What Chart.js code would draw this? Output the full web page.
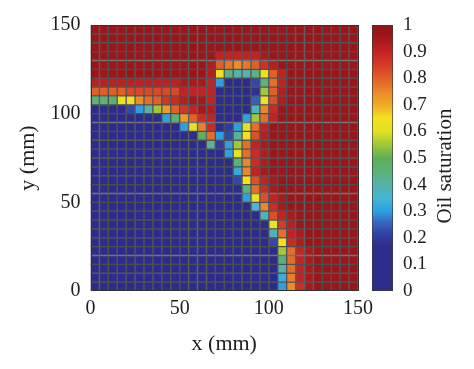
<!DOCTYPE html>
<html><head><meta charset="utf-8">
<script src="https://cdn.jsdelivr.net/npm/chart.js@4.4.1/dist/chart.umd.min.js"></script>
<style>
html,body{margin:0;padding:0;background:#fff;width:474px;height:369px;overflow:hidden;}
#wrap{position:relative;width:474px;height:369px;}
canvas{position:absolute;top:0;}
#main{left:0;}
#cbar{left:372px;}
</style></head><body>
<div id="wrap"><canvas id="main" width="474" height="369"></canvas><canvas id="cbar" width="102" height="369"></canvas></div>
<script>
// cell centres (mm)
const xCenters = [2.5,7.5,12.5,17.5,22.5,27.5,32.5,37.5,42.5,47.5,52.5,57.5,62.5,67.5,72.5,77.5,82.5,87.5,92.5,97.5,102.5,107.5,112.5,117.5,122.5,127.5,132.5,137.5,142.5,147.5];
const yCenters = [147.5,142.5,137.5,132.5,127.5,122.5,117.5,112.5,107.5,102.5,97.5,92.5,87.5,82.5,77.5,72.5,67.5,62.5,57.5,52.5,47.5,42.5,37.5,32.5,27.5,22.5,17.5,12.5,7.5,2.5];
const cellHalf = 2.5;
const xTicks = [0,50,100,150];
const yTicks = [0,50,100,150];
const cbarTicks = [0,0.1,0.2,0.3,0.4,0.5,0.6,0.7,0.8,0.9,1];

// oil saturation, one row per y (top row first), one value per x column
const satRows = [
[.97,.97,.97,.97,.97,.97,.97,.97,.97,.97, .97,.97,.97,.97,.97,.97,.97,.97,.97,.97, .97,.97,.97,.97,.97,.97,.97,.97,.97,.97],
[.97,.97,.97,.97,.97,.97,.97,.97,.97,.97, .97,.97,.97,.97,.97,.97,.97,.97,.97,.97, .97,.97,.97,.97,.97,.97,.97,.97,.97,.97],
[.97,.97,.97,.97,.97,.97,.97,.97,.97,.97, .97,.97,.97,.97,.97,.97,.97,.97,.97,.97, .97,.97,.97,.97,.97,.97,.97,.97,.97,.97],
[.97,.97,.97,.97,.97,.97,.97,.97,.97,.97, .97,.97,.97,.97,.90,.90,.90,.90,.90,.94, .97,.97,.97,.97,.97,.97,.97,.97,.97,.97],
[.97,.97,.97,.97,.97,.97,.97,.97,.97,.97, .97,.97,.97,.93,.80,.77,.74,.77,.80,.87, .92,.97,.97,.97,.97,.97,.97,.97,.97,.97],
[.97,.97,.97,.97,.97,.97,.97,.97,.97,.97, .97,.97,.97,.92,.64,.45,.40,.40,.45,.63, .80,.90,.97,.97,.97,.97,.97,.97,.97,.97],
[.91,.91,.91,.91,.91,.91,.91,.91,.91,.91, .94,.94,.94,.90,.30,.06,.06,.06,.22,.45, .78,.90,.97,.97,.97,.97,.97,.97,.97,.97],
[.80,.80,.80,.80,.83,.83,.83,.83,.83,.83, .90,.90,.90,.90,.08,.06,.06,.06,.18,.55, .80,.92,.97,.97,.97,.97,.97,.97,.97,.97],
[.45,.45,.47,.62,.64,.74,.78,.80,.86,.88, .92,.95,.95,.90,.06,.06,.06,.06,.25,.62, .82,.93,.97,.97,.97,.97,.97,.97,.97,.97],
[.06,.06,.06,.06,.22,.30,.40,.55,.72,.80, .86,.90,.95,.93,.06,.06,.06,.06,.38,.75, .88,.97,.97,.97,.97,.97,.97,.97,.97,.97],
[.06,.06,.06,.06,.06,.06,.06,.06,.30,.45, .72,.80,.88,.90,.06,.06,.06,.30,.55,.78, .90,.97,.97,.97,.97,.97,.97,.97,.97,.97],
[.06,.06,.06,.06,.06,.06,.06,.06,.06,.06, .30,.62,.76,.88,.06,.20,.30,.60,.78,.90, .97,.97,.97,.97,.97,.97,.97,.97,.97,.97],
[.06,.06,.06,.06,.06,.06,.06,.06,.06,.06, .06,.06,.48,.78,.30,.22,.42,.65,.82,.92, .97,.97,.97,.97,.97,.97,.97,.97,.97,.97],
[.06,.06,.06,.06,.06,.06,.06,.06,.06,.06, .06,.06,.06,.42,.20,.30,.55,.78,.90,.94, .97,.97,.97,.97,.97,.97,.97,.97,.97,.97],
[.06,.06,.06,.06,.06,.06,.06,.06,.06,.06, .06,.06,.06,.06,.06,.30,.62,.78,.88,.93, .97,.97,.97,.97,.97,.97,.97,.97,.97,.97],
[.06,.06,.06,.06,.06,.06,.06,.06,.06,.06, .06,.06,.06,.06,.06,.06,.45,.75,.88,.93, .97,.97,.97,.97,.97,.97,.97,.97,.97,.97],
[.06,.06,.06,.06,.06,.06,.06,.06,.06,.06, .06,.06,.06,.06,.06,.06,.32,.75,.90,.94, .97,.97,.97,.97,.97,.97,.97,.97,.97,.97],
[.06,.06,.06,.06,.06,.06,.06,.06,.06,.06, .06,.06,.06,.06,.06,.06,.22,.65,.82,.90, .94,.97,.97,.97,.97,.97,.97,.97,.97,.97],
[.06,.06,.06,.06,.06,.06,.06,.06,.06,.06, .06,.06,.06,.06,.06,.06,.06,.45,.78,.88, .94,.97,.97,.97,.97,.97,.97,.97,.97,.97],
[.06,.06,.06,.06,.06,.06,.06,.06,.06,.06, .06,.06,.06,.06,.06,.06,.06,.30,.62,.82, .90,.94,.97,.97,.97,.97,.97,.97,.97,.97],
[.06,.06,.06,.06,.06,.06,.06,.06,.06,.06, .06,.06,.06,.06,.06,.06,.06,.06,.35,.75, .88,.94,.97,.97,.97,.97,.97,.97,.97,.97],
[.06,.06,.06,.06,.06,.06,.06,.06,.06,.06, .06,.06,.06,.06,.06,.06,.06,.06,.06,.38, .82,.90,.94,.97,.97,.97,.97,.97,.97,.97],
[.06,.06,.06,.06,.06,.06,.06,.06,.06,.06, .06,.06,.06,.06,.06,.06,.06,.06,.06,.10, .62,.85,.92,.97,.97,.97,.97,.97,.97,.97],
[.06,.06,.06,.06,.06,.06,.06,.06,.06,.06, .06,.06,.06,.06,.06,.06,.06,.06,.06,.06, .38,.78,.90,.94,.97,.97,.97,.97,.97,.97],
[.06,.06,.06,.06,.06,.06,.06,.06,.06,.06, .06,.06,.06,.06,.06,.06,.06,.06,.06,.06, .22,.65,.88,.93,.97,.97,.97,.97,.97,.97],
[.06,.06,.06,.06,.06,.06,.06,.06,.06,.06, .06,.06,.06,.06,.06,.06,.06,.06,.06,.06, .06,.55,.78,.90,.94,.97,.97,.97,.97,.97],
[.06,.06,.06,.06,.06,.06,.06,.06,.06,.06, .06,.06,.06,.06,.06,.06,.06,.06,.06,.06, .06,.45,.78,.90,.94,.97,.97,.97,.97,.97],
[.06,.06,.06,.06,.06,.06,.06,.06,.06,.06, .06,.06,.06,.06,.06,.06,.06,.06,.06,.06, .06,.40,.78,.90,.94,.97,.97,.97,.97,.97],
[.06,.06,.06,.06,.06,.06,.06,.06,.06,.06, .06,.06,.06,.06,.06,.06,.06,.06,.06,.06, .06,.33,.76,.90,.94,.97,.97,.97,.97,.97],
[.06,.06,.06,.06,.06,.06,.06,.06,.06,.06, .06,.06,.06,.06,.06,.06,.06,.06,.06,.06, .06,.30,.74,.88,.94,.97,.97,.97,.97,.97]
];

// colormap (jet-like, as in the colour bar)
const cmapStops = [
 [0.00,[44,45,138]],[0.17,[45,46,140]],[0.21,[50,62,160]],[0.26,[55,105,195]],
 [0.30,[45,160,225]],[0.35,[70,180,210]],[0.40,[85,178,170]],[0.45,[90,178,120]],
 [0.50,[95,175,85]],[0.55,[160,200,55]],[0.60,[225,225,35]],[0.65,[245,225,30]],
 [0.70,[240,170,40]],[0.75,[235,135,40]],[0.80,[225,95,40]],[0.85,[212,58,38]],
 [0.90,[196,34,34]],[0.95,[162,24,27]],[1.00,[140,20,24]]
];
function satColor(v){
  for (let i=0;i<cmapStops.length-1;i++){
    const [a,ca]=cmapStops[i],[b,cb]=cmapStops[i+1];
    if (v<=b){
      const t=Math.max(0,Math.min(1,(v-a)/(b-a)));
      return 'rgb('+ca.map((c,k)=>Math.round(c+(cb[k]-c)*t)).join(',')+')';
    }
  }
  const c=cmapStops[cmapStops.length-1][1];
  return 'rgb('+c.join(',')+')';
}

const FONT = 'Liberation Serif';
const TXT = '#1e1e1e';

const cells = [];
satRows.forEach((row,r)=>row.forEach((v,c)=>{
  cells.push({x:xCenters[c], y:[yCenters[r]-cellHalf, yCenters[r]+cellHalf], v:v});
}));

const frame = {
  id:'frame',
  afterDatasetsDraw(chart){
    const {ctx, chartArea:a} = chart;
    ctx.save(); ctx.strokeStyle='#333'; ctx.lineWidth=1;
    ctx.strokeRect(Math.round(a.left)+0.5, Math.round(a.top)+0.5, Math.round(a.right-a.left)-1, Math.round(a.bottom-a.top)-1);
    ctx.restore();
  }
};

new Chart(document.getElementById('main'), {
  type:'bar',
  data:{ datasets:[{
    data: cells,
    backgroundColor: ctx => satColor(ctx.raw.v),
    borderColor: 'rgba(70,70,74,0.9)',
    borderWidth: 1,
    borderSkipped: false,
    barPercentage: 1,
    categoryPercentage: 1,
    grouped: false
  }]},
  options:{
    responsive:false, animation:false, devicePixelRatio:1,
    layout:{ padding:{ top:25, right:116, left:0, bottom:0 } },
    plugins:{ legend:{display:false}, tooltip:{enabled:false} },
    scales:{
      x:{ type:'linear', min:0, max:150, offset:false,
          grid:{display:false, offset:false, drawTicks:false}, border:{display:false},
          afterBuildTicks: s => { s.ticks = xTicks.map(v=>({value:v})); },
          ticks:{ padding:6, color:TXT, maxRotation:0, font:{family:FONT, size:20} },
          title:{ display:true, text:'x (mm)', color:TXT, font:{family:FONT, size:22}, padding:{top:0,bottom:12} },
          afterFit: s => { s.height = 78; } },
      y:{ type:'linear', min:0, max:150,
          grid:{display:false, drawTicks:false}, border:{display:false},
          afterBuildTicks: s => { s.ticks = yTicks.map(v=>({value:v})); },
          ticks:{ padding:10, color:TXT, font:{family:FONT, size:20} },
          title:{ display:true, text:'y (mm)', color:TXT, font:{family:FONT, size:22}, padding:{top:15,bottom:0} },
          afterFit: s => { s.width = 90.5; } }
    }
  },
  plugins:[frame]
});

const cbarTitle = {
  id:'cbarTitle',
  afterDraw(chart){
    const ctx = chart.ctx;
    ctx.save();
    ctx.translate(73, 166);
    ctx.rotate(-Math.PI/2);
    ctx.font = '21px "'+FONT+'"';
    ctx.fillStyle = TXT; ctx.textAlign='center'; ctx.textBaseline='middle';
    ctx.fillText('Oil saturation', 0, 0);
    ctx.restore();
  }
};

new Chart(document.getElementById('cbar'), {
  type:'bar',
  data:{ labels:['Oil saturation'], datasets:[{
    data:[[0,1]],
    backgroundColor: ctx => {
      const a = ctx.chart.chartArea;
      if (!a) return null;
      const g = ctx.chart.ctx.createLinearGradient(0, a.bottom, 0, a.top);
      cmapStops.forEach(([v,c]) => g.addColorStop(v, 'rgb('+c.join(',')+')'));
      return g;
    },
    borderColor:'#3a3a3a', borderWidth:1, borderSkipped:false,
    barPercentage:1, categoryPercentage:1
  }]},
  options:{
    responsive:false, animation:false, devicePixelRatio:1,
    layout:{ padding:{ top:25, bottom:78, left:0, right:0 } },
    plugins:{ legend:{display:false}, tooltip:{enabled:false} },
    scales:{
      x:{ display:false },
      y:{ position:'right', min:0, max:1,
          grid:{display:false, drawTicks:false}, border:{display:false},
          afterBuildTicks: s => { s.ticks = cbarTicks.map(v=>({value:v})); },
          ticks:{ padding:10, color:TXT, font:{family:FONT, size:19},
                  callback: v => String(Math.round(v*10)/10) },
          afterFit: s => { s.width = 81; } }
    }
  },
  plugins:[cbarTitle]
});
</script>
</body></html>
